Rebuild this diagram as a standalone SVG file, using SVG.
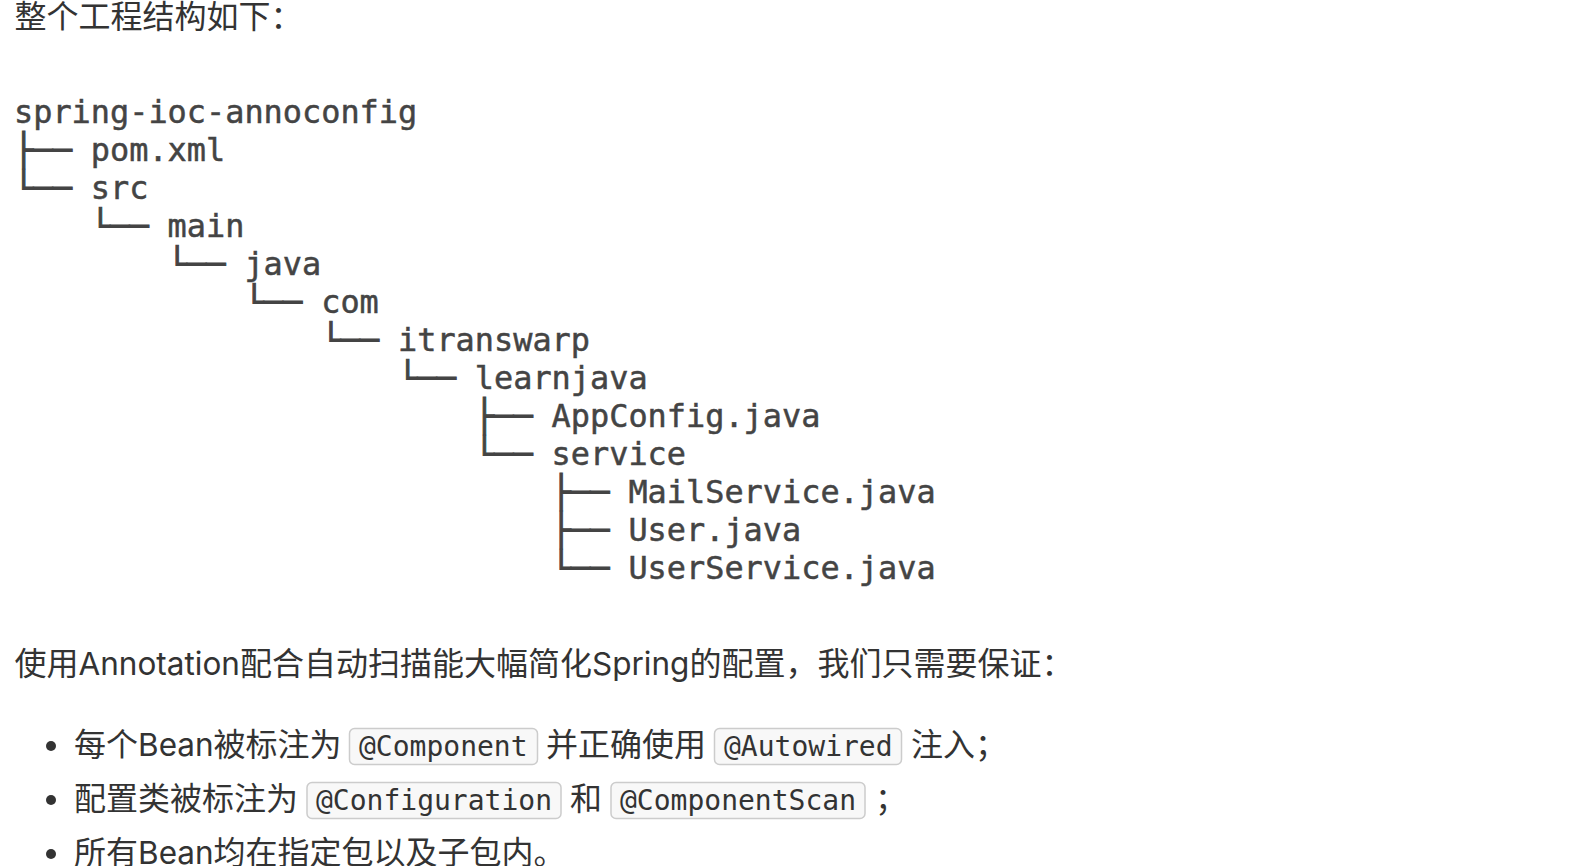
<svg xmlns="http://www.w3.org/2000/svg" width="1582" height="866" viewBox="0 0 1582 866">
<style>
.t{font-family:"Inter","Noto Sans CJK SC",sans-serif;font-size:32px;fill:#333}
.l{font-size:31.5px}
.m{font-family:"DejaVu Sans Mono","Noto Sans CJK SC",monospace;font-size:31.9px;fill:#444;stroke:#444;stroke-width:.5px;white-space:pre}
.b{stroke-width:1px}
.c{font-family:"DejaVu Sans Mono",monospace;font-size:28px;fill:#333}
.chip{fill:#f8f8f8;stroke:#ccc;stroke-width:1.5}
</style>
<rect width="1582" height="866" fill="#fff"/>
<text class="t" x="14.5" y="28">整个工程结构如下&#xFF1A;</text>
<g id="tree">
<text class="m" xml:space="preserve" x="14" y="123">spring-ioc-annoconfig</text>
<text class="m" xml:space="preserve" x="14" y="161"><tspan class="b">├──</tspan> pom.xml</text>
<text class="m" xml:space="preserve" x="14" y="199"><tspan class="b">└──</tspan> src</text>
<text class="m" xml:space="preserve" x="14" y="237">    <tspan class="b">└──</tspan> main</text>
<text class="m" xml:space="preserve" x="14" y="275">        <tspan class="b">└──</tspan> java</text>
<text class="m" xml:space="preserve" x="14" y="313">            <tspan class="b">└──</tspan> com</text>
<text class="m" xml:space="preserve" x="14" y="351">                <tspan class="b">└──</tspan> itranswarp</text>
<text class="m" xml:space="preserve" x="14" y="389">                    <tspan class="b">└──</tspan> learnjava</text>
<text class="m" xml:space="preserve" x="14" y="427">                        <tspan class="b">├──</tspan> AppConfig.java</text>
<text class="m" xml:space="preserve" x="14" y="465">                        <tspan class="b">└──</tspan> service</text>
<text class="m" xml:space="preserve" x="14" y="503">                            <tspan class="b">├──</tspan> MailService.java</text>
<text class="m" xml:space="preserve" x="14" y="541">                            <tspan class="b">├──</tspan> User.java</text>
<text class="m" xml:space="preserve" x="14" y="579">                            <tspan class="b">└──</tspan> UserService.java</text>
</g>
<text class="t" x="14.5" y="675">使用<tspan class="l">Annotation</tspan>配合自动扫描能大幅简化<tspan class="l">Spring</tspan>的配置&#xFF0C;我们只需要保证&#xFF1A;</text>
<g id="list">
<circle cx="51" cy="746" r="5" fill="#333"/>
<circle cx="51" cy="800" r="5" fill="#333"/>
<circle cx="51" cy="854" r="5" fill="#333"/>
<text class="t" x="74" y="756">每个<tspan class="l">Bean</tspan>被标注为</text>
<rect class="chip" x="349.5" y="728.5" width="188" height="36" rx="5"/>
<text class="c" x="359" y="756">@Component</text>
<text class="t" x="546" y="756">并正确使用</text>
<rect class="chip" x="714.5" y="728.5" width="187" height="36" rx="5"/>
<text class="c" x="724" y="756">@Autowired</text>
<text class="t" x="911" y="756">注入&#xFF1B;</text>
<text class="t" x="74" y="810">配置类被标注为</text>
<rect class="chip" x="307" y="782.5" width="254" height="36" rx="5"/>
<text class="c" x="316" y="810">@Configuration</text>
<text class="t" x="570" y="810">和</text>
<rect class="chip" x="611" y="782.5" width="254" height="36" rx="5"/>
<text class="c" x="620" y="810">@ComponentScan</text>
<text class="t" x="875" y="810">&#xFF1B;</text>
<text class="t" x="74" y="864">所有<tspan class="l">Bean</tspan>均在指定包以及子包内。</text>
</g>
</svg>
